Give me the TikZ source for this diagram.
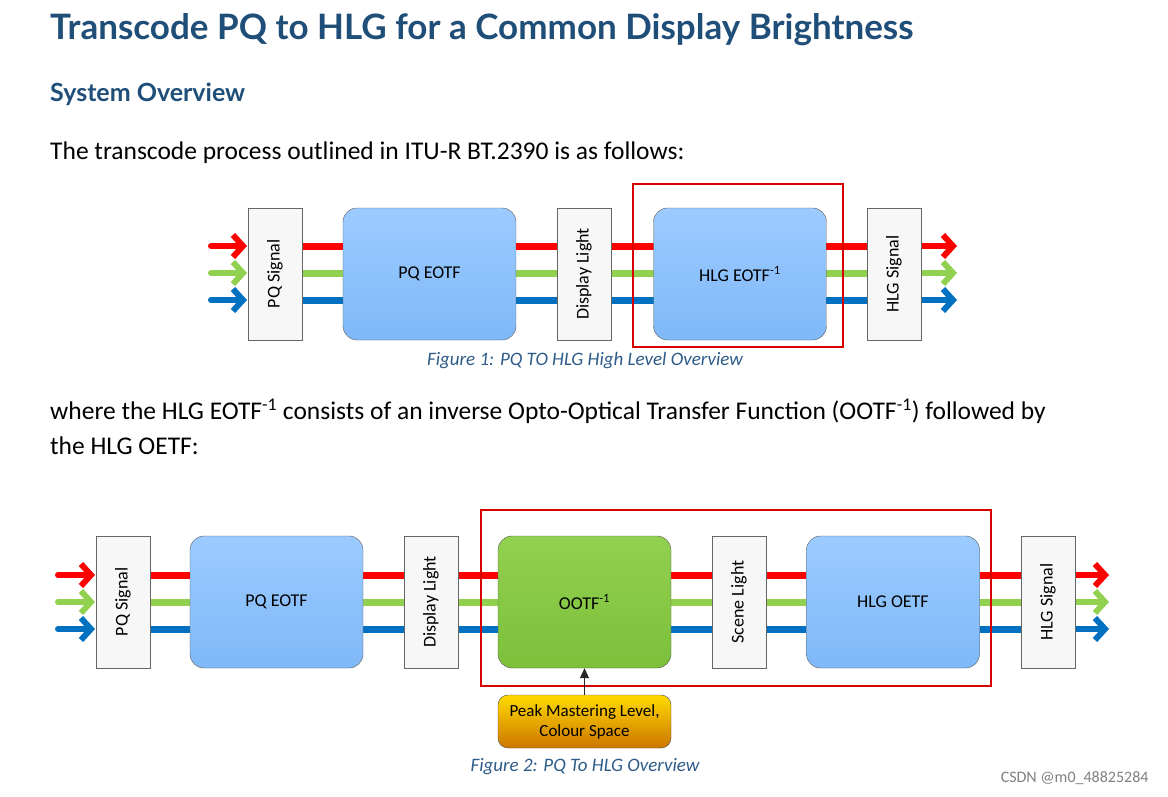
\documentclass[tikz,border=0pt]{standalone}
\usepackage{fontspec}
\setmainfont{Carlito}
\newfontfamily\titlef{Lato}
\usetikzlibrary{arrows.meta}
\definecolor{tblue}{HTML}{1F4E79}
\definecolor{capblue}{HTML}{2E5C8A}
\definecolor{lred}{HTML}{FF0000}
\definecolor{lgreen}{HTML}{92D050}
\definecolor{lblue}{HTML}{0070C0}
\definecolor{btop}{HTML}{9CCBFF}
\definecolor{bbot}{HTML}{7FB8F8}
\definecolor{gtop}{HTML}{92D050}
\definecolor{gbot}{HTML}{7CC03A}
\tikzset{
 sig/.style={draw=gray!80!black, fill=gray!6, minimum width=54pt, minimum height=132pt, inner sep=0pt, font=\fontsize{18}{21}\selectfont},
 blk/.style={draw=gray!70!black, rounded corners=14pt, top color=btop, bottom color=bbot, minimum width=173pt, minimum height=132pt, font=\fontsize{18}{21}\selectfont},
 gblk/.style={blk, top color=gtop, bottom color=gbot},
 ln/.style={line width=7pt},
 ar/.style={line width=6pt, line cap=round, -{Straight Barb[length=10pt,width=22pt,line width=6pt]}},
 hl/.style={draw=red!85!black, line width=1.2pt},
 figcap/.style={font=\fontsize{19}{22}\selectfont\itshape, text=capblue},
 body/.style={font=\fontsize{25.5}{30}\selectfont, anchor=west, inner sep=0pt}
}
\begin{document}
\begin{tikzpicture}[x=1pt,y=-1pt]
\useasboundingbox (0,0) rectangle (1168,797);
\fill[white] (0,0) rectangle (1168,797);
\node[anchor=west,inner sep=0pt,font=\titlef\bfseries\fontsize{35}{40}\selectfont,text=tblue] (title) at (50,30) {Transcode PQ to HLG for a Common Display Brightness};
\node[anchor=west,inner sep=0pt,font=\titlef\bfseries\fontsize{25}{30}\selectfont,text=tblue] (sub) at (50,94) {System Overview};
\node[body] (p1) at (50,153) {The transcode process outlined in ITU-R BT.2390 is as follows:};
\node[body] (p2) at (50,411) {where the HLG EOTF\textsuperscript{-1} consists of an inverse Opto-Optical Transfer Function (OOTF\textsuperscript{-1}) followed by};
\node[body] (p3) at (50,446) {the HLG OETF:};

% Figure 1
\foreach \y/\c in {246/lred,273/lgreen,300/lblue}{
 \draw[ln,\c] (302,\y) -- (867,\y);
 \draw[ar,\c] (211,\y) -- (247,\y);
 \draw[ar,\c] (921,\y) -- (957,\y);
}
\node[sig] (s1) at (275,274) {\rotatebox{90}{PQ Signal}};
\node[blk] (e1) at (429.5,274) {PQ EOTF};
\node[sig] (d1) at (584,274) {\rotatebox{90}{Display Light}};
\node[blk] (h1) at (740,274) {HLG EOTF\textsuperscript{-1}};
\node[sig] (g1) at (894,274) {\rotatebox{90}{HLG Signal}};
\draw[hl] (633,184) rectangle (843,347);
\node[figcap] (c1) at (585,361) {Figure 1: PQ TO HLG High Level Overview};

% Figure 2
\foreach \y/\c in {575/lred,602/lgreen,629/lblue}{
 \draw[ln,\c] (150,\y) -- (1021,\y);
 \draw[ar,\c] (58,\y) -- (95,\y);
 \draw[ar,\c] (1075,\y) -- (1109,\y);
}
\node[sig] (s2) at (123,602) {\rotatebox{90}{PQ Signal}};
\node[blk] (e2) at (276.5,602) {PQ EOTF};
\node[sig] (d2) at (431,602) {\rotatebox{90}{Display Light}};
\node[gblk] (o2) at (584.5,602) {OOTF\textsuperscript{-1}};
\node[sig] (sc2) at (739,602) {\rotatebox{90}{Scene Light}};
\node[blk] (h2) at (893,602) {HLG OETF};
\node[sig] (g2) at (1048,602) {\rotatebox{90}{HLG Signal}};
\draw[hl] (481,510) rectangle (991,686);
\node[draw=gray!60!black, rounded corners=10pt, top color=orange!20!yellow!90!orange, bottom color=orange!85!yellow!80!black, minimum width=173pt, minimum height=53pt, align=center, font=\fontsize{17}{20}\selectfont] (pk) at (584.5,721.5) {Peak Mastering Level,\\Colour Space};
\draw[gray!30!black, line width=1pt, -{Triangle[length=10pt,width=9pt]}] (pk) -- (o2);
\node[figcap] (c2) at (585,767) {Figure 2: PQ To HLG Overview};
\node[anchor=east, font=\fontsize{16}{19}\selectfont, text=gray] (wm) at (1152,778) {CSDN @m0\_48825284};
\end{tikzpicture}
\end{document}
